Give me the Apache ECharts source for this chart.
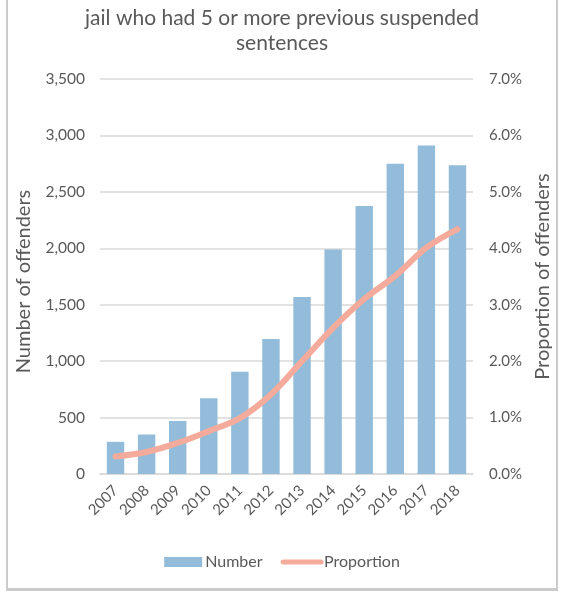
<!DOCTYPE html>
<html>
<head>
<meta charset="utf-8">
<script src="https://cdn.jsdelivr.net/npm/echarts@6/dist/echarts.min.js"></script>
<style>
html,body{margin:0;padding:0;background:#fff;}
#frame{position:absolute;left:6px;top:-10px;width:548px;height:598px;border-left:2px solid #cbcbcb;border-right:2px solid #cbcbcb;border-bottom:3px solid #cbcbcb;}
#chart{position:absolute;left:0;top:0;width:564px;height:600px;}
</style>
</head>
<body>
<div id="frame"></div>
<div id="chart"></div>
<script>
const years = ['2007','2008','2009','2010','2011','2012','2013','2014','2015','2016','2017','2018'];
const numberOfOffenders = [285, 350, 470, 672, 905, 1197, 1569, 1990, 2375, 2750, 2910, 2735];
const proportionPct = [0.31, 0.39, 0.55, 0.76, 0.99, 1.41, 2.00, 2.59, 3.10, 3.51, 4.01, 4.34];
const titleText = 'jail who had 5 or more previous suspended\nsentences';

const font = 'Lato, "Open Sans", sans-serif';
const grey = '#595959';
const chart = echarts.init(document.getElementById('chart'));
chart.setOption({
  animation: false,
  title: {
    text: titleText,
    left: 'center',
    top: 1,
    textStyle: {fontFamily: font, fontSize: 21, fontWeight: 'normal', color: grey, lineHeight: 25}
  },
  legend: {
    bottom: 25,
    left: 'center',
    itemWidth: 38,
    itemHeight: 10,
    itemGap: 18,
    textStyle: {fontFamily: font, fontSize: 16, color: grey, padding: [0, 0, 0, -2]},
    data: [
      {name: 'Number', icon: 'rect'},
      {name: 'Proportion', itemStyle: {opacity: 0}, lineStyle: {width: 5, cap: 'round', color: '#f5ab9c'}}
    ]
  },
  grid: {left: 100, right: 91, top: 79, bottom: 126},
  xAxis: {
    type: 'category',
    data: years,
    axisTick: {show: false},
    axisLine: {lineStyle: {color: '#d9d9d9', width: 1.5}},
    axisLabel: {rotate: 45, fontFamily: font, fontSize: 15, color: grey, margin: 14}
  },
  yAxis: [{
    type: 'value',
    min: 0, max: 3500, interval: 500,
    name: 'Number of offenders',
    nameLocation: 'middle',
    nameGap: 66,
    nameTextStyle: {fontFamily: font, fontSize: 20, color: grey, padding: [0, 10, 0, 0]},
    axisLabel: {fontFamily: font, fontSize: 15.5, color: grey, margin: 15,
      formatter: v => v.toLocaleString('en-US')},
    splitLine: {lineStyle: {color: '#d9d9d9', width: 1.5}},
    axisLine: {show: false}, axisTick: {show: false}
  }, {
    type: 'value',
    min: 0, max: 7, interval: 1,
    name: 'Proportion of offenders',
    nameLocation: 'middle',
    nameGap: 60,
    nameRotate: 90,
    nameTextStyle: {fontFamily: font, fontSize: 20, color: grey},
    axisLabel: {fontFamily: font, fontSize: 15, color: grey, margin: 16,
      formatter: v => v.toFixed(1) + '%'},
    splitLine: {show: false},
    axisLine: {show: false}, axisTick: {show: false}
  }],
  series: [{
    name: 'Number',
    type: 'bar',
    data: numberOfOffenders,
    barWidth: '56%',
    itemStyle: {color: '#92bcd9'}
  }, {
    name: 'Proportion',
    type: 'line',
    yAxisIndex: 1,
    data: proportionPct,
    smooth: 0.35,
    symbol: 'none',
    lineStyle: {color: '#f5ab9c', width: 6, cap: 'round'},
    itemStyle: {color: '#f5ab9c'}
  }]
});
</script>
</body>
</html>
